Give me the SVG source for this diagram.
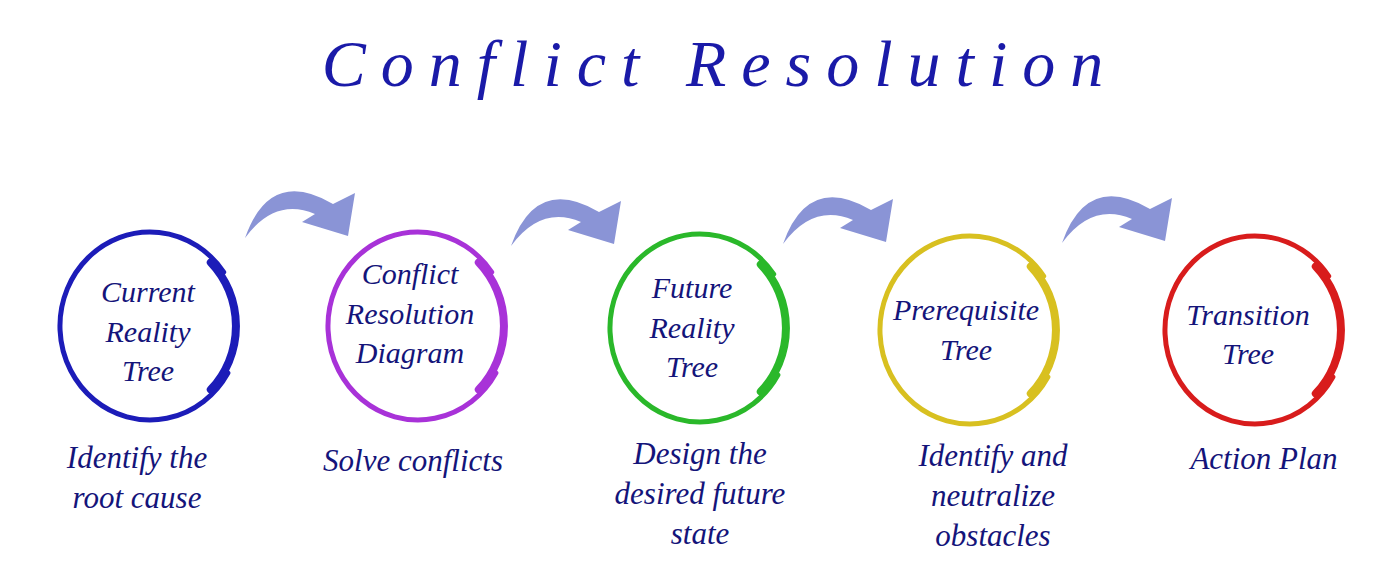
<svg xmlns="http://www.w3.org/2000/svg" width="1400" height="574" viewBox="0 0 1400 574">
<defs>
<style>
text{font-family:"Liberation Serif","DejaVu Serif",serif;font-style:italic;fill:#14147a;text-anchor:middle}
.title{font-size:66px;fill:#1a1aa8;letter-spacing:15px}
.n{font-size:30px}
.d{font-size:31px}
.ring{fill:none;stroke-width:5;stroke-linecap:round}
.tail{fill:none;stroke-width:8;stroke-linecap:round}
.arr{fill:#8a94d6}
</style>
<path id="arrow" d="M0,56 Q25,-15 88,22 L110,11 L103,54 L57,40 L70,32 Q30,15 0,56 Z"/>
<path id="ring" class="ring" d="M73.7,-53.9 A90,94 0 1 0 77.9,47"/>
<path id="tail" class="tail" d="M60.8,-63.6 A86,90 0 0 1 60.8,63.6"/>
</defs>
<rect width="1400" height="574" fill="#fff"/>
<text class="title" x="720" y="86">Conflict Resolution</text>
<g id="connectors">
<use href="#arrow" class="arr" x="245" y="182"/>
<use href="#arrow" class="arr" x="511" y="190"/>
<use href="#arrow" class="arr" x="783" y="188"/>
<use href="#arrow" class="arr" x="1062" y="187"/>
</g>
<g id="n1">
<g stroke="#1c1cb8" transform="translate(150,326)"><use href="#ring"/><use href="#tail"/></g>
<text class="n" x="148" y="302">Current</text>
<text class="n" x="148" y="342">Reality</text>
<text class="n" x="148" y="381">Tree</text>
<text class="d" x="137" y="468">Identify the</text>
<text class="d" x="137" y="508">root cause</text>
</g>
<g id="n2">
<g stroke="#a832d8" transform="translate(418,326)"><use href="#ring"/><use href="#tail"/></g>
<text class="n" x="410" y="284">Conflict</text>
<text class="n" x="410" y="324">Resolution</text>
<text class="n" x="410" y="363">Diagram</text>
<text class="d" x="413" y="471">Solve conflicts</text>
</g>
<g id="n3">
<g stroke="#2ab82a" transform="translate(700,328)"><use href="#ring"/><use href="#tail"/></g>
<text class="n" x="692" y="298">Future</text>
<text class="n" x="692" y="338">Reality</text>
<text class="n" x="692" y="377">Tree</text>
<text class="d" x="700" y="464">Design the</text>
<text class="d" x="700" y="504">desired future</text>
<text class="d" x="700" y="544">state</text>
</g>
<g id="n4">
<g stroke="#d8c020" transform="translate(970,330)"><use href="#ring"/><use href="#tail"/></g>
<text class="n" x="966" y="320">Prerequisite</text>
<text class="n" x="966" y="360">Tree</text>
<text class="d" x="993" y="466">Identify and</text>
<text class="d" x="993" y="506">neutralize</text>
<text class="d" x="993" y="546">obstacles</text>
</g>
<g id="n5">
<g stroke="#d81c1c" transform="translate(1255,330)"><use href="#ring"/><use href="#tail"/></g>
<text class="n" x="1248" y="325">Transition</text>
<text class="n" x="1248" y="364">Tree</text>
<text class="d" x="1264" y="469">Action Plan</text>
</g>
</svg>
